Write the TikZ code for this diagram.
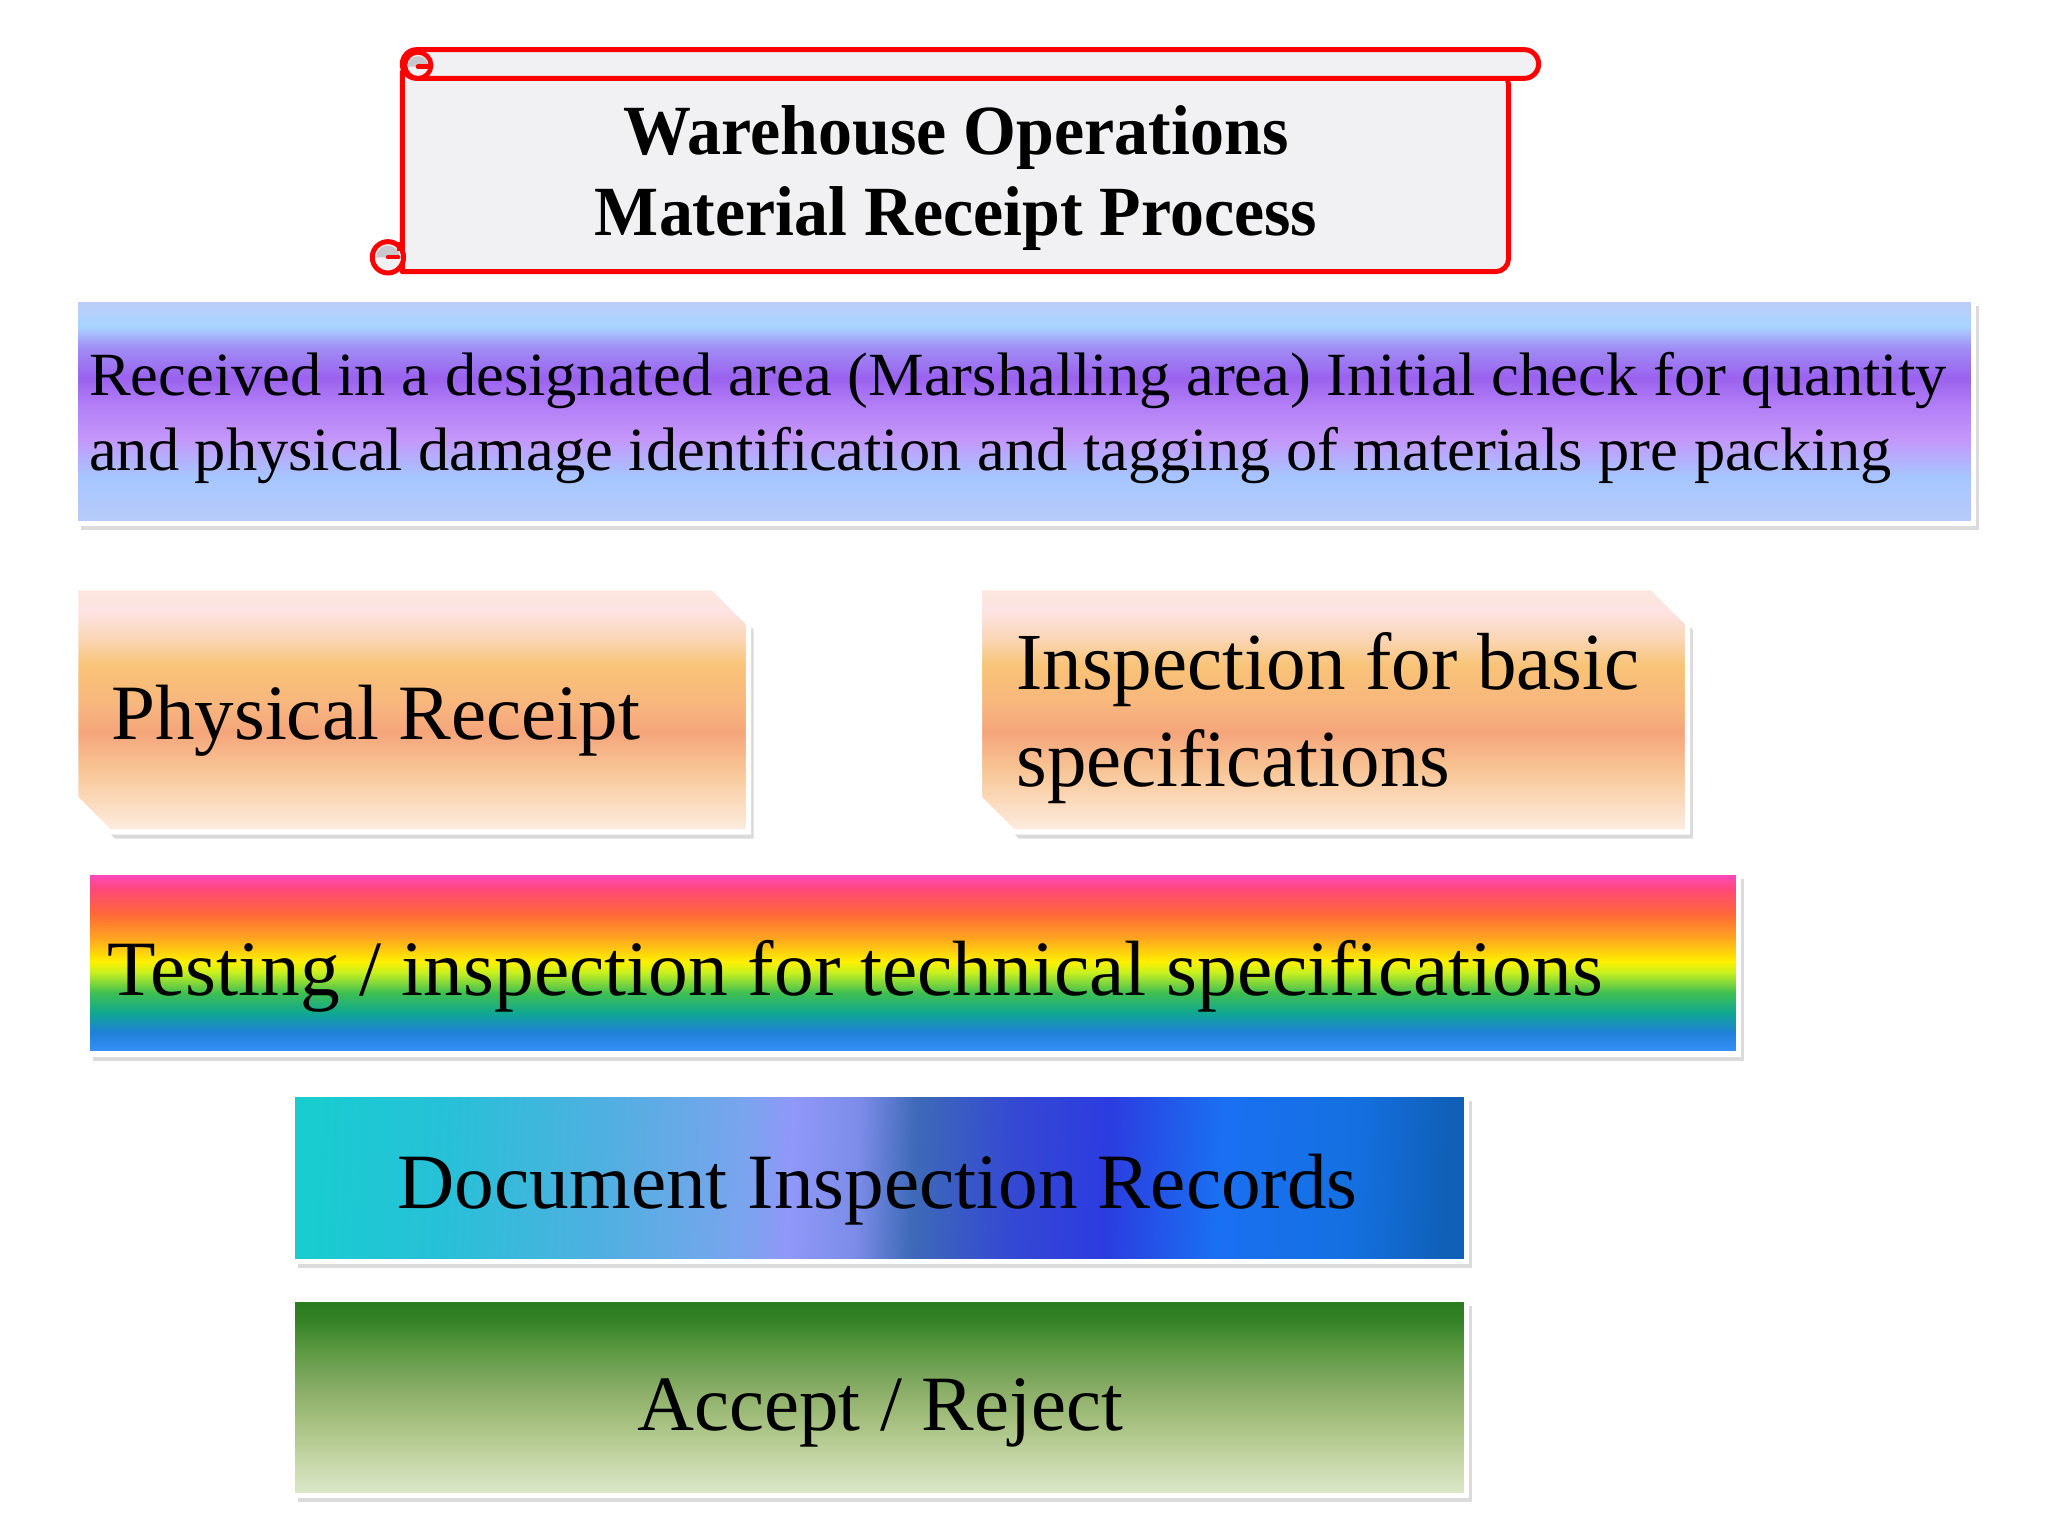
\documentclass[tikz,border=0pt]{standalone}
\usepackage{fontspec}
\setmainfont{Liberation Serif}
\usepackage{graphicx}
\usetikzlibrary{shadows}

\definecolor{scrollred}{HTML}{FF0000}
\definecolor{scrollfill}{HTML}{F1F1F3}
\definecolor{curlgray}{HTML}{C8C8CC}

% purple band
\definecolor{pu1}{HTML}{C0CCF8}
\definecolor{pu2}{HTML}{A8D4FF}
\definecolor{pu3}{HTML}{A08CF4}
\definecolor{pu4}{HTML}{9A62EE}
\definecolor{pu5}{HTML}{B27EF6}
\definecolor{pu6}{HTML}{C496FA}
\definecolor{pu7}{HTML}{A6C6FF}
\definecolor{pu8}{HTML}{B8CCF8}
% orange
\definecolor{or1}{HTML}{FBE8DC}
\definecolor{or2}{HTML}{FDE2E2}
\definecolor{or3}{HTML}{FAD6B4}
\definecolor{or4}{HTML}{F8C376}
\definecolor{or5}{HTML}{F8B67E}
\definecolor{or6}{HTML}{F4A57A}
\definecolor{or7}{HTML}{F8C696}
\definecolor{or8}{HTML}{FBDBBE}
\definecolor{or9}{HTML}{FCEDE2}
% rainbow
\definecolor{rb1}{HTML}{FF48C8}
\definecolor{rb2}{HTML}{FF4878}
\definecolor{rb3}{HTML}{FF6838}
\definecolor{rb4}{HTML}{FFA420}
\definecolor{rb5}{HTML}{FFF000}
\definecolor{rb6}{HTML}{C8F020}
\definecolor{rb7}{HTML}{40C050}
\definecolor{rb8}{HTML}{10A890}
\definecolor{rb9}{HTML}{2080D8}
\definecolor{rb10}{HTML}{3A92FF}
% green
\definecolor{gr1}{HTML}{2A7A1E}
\definecolor{gr2}{HTML}{338226}
\definecolor{gr3}{HTML}{5A9840}
\definecolor{gr4}{HTML}{88AC66}
\definecolor{gr5}{HTML}{A2BE7C}
\definecolor{gr6}{HTML}{C2D4A2}
\definecolor{gr7}{HTML}{DEE8CC}
% document (left to right)
\definecolor{dc1}{HTML}{18CCD0}
\definecolor{dc2}{HTML}{28C0D8}
\definecolor{dc3}{HTML}{4EB0E0}
\definecolor{dc4}{HTML}{7AA4EE}
\definecolor{dc5}{HTML}{9098F8}
\definecolor{dc6}{HTML}{7C8CE8}
\definecolor{dc7}{HTML}{3E6AB8}
\definecolor{dc8}{HTML}{3448D4}
\definecolor{dc9}{HTML}{2C3CE0}
\definecolor{dc10}{HTML}{1A70F2}
\definecolor{dc11}{HTML}{1470E0}
\definecolor{dc12}{HTML}{1060B8}

\pgfdeclareverticalshading{purpleband}{100bp}{color(0bp)=(pu8); color(25bp)=(pu8); color(35.5bp)=(pu7); color(44bp)=(pu6); color(51.5bp)=(pu5); color(57.5bp)=(pu4); color(64bp)=(pu3); color(69bp)=(pu2); color(75bp)=(pu1); color(100bp)=(pu1)}
\pgfdeclareverticalshading{orangeband}{100bp}{color(0bp)=(or9); color(25bp)=(or9); color(31bp)=(or8); color(37.5bp)=(or7); color(45.5bp)=(or6); color(51bp)=(or5); color(59bp)=(or4); color(64.5bp)=(or3); color(70bp)=(or2); color(75bp)=(or1); color(100bp)=(or1)}
\pgfdeclareverticalshading{rainbowband}{100bp}{color(0bp)=(rb10); color(25bp)=(rb10); color(31bp)=(rb9); color(36.5bp)=(rb8); color(42bp)=(rb7); color(47.5bp)=(rb6); color(50.5bp)=(rb5); color(57bp)=(rb4); color(63.5bp)=(rb3); color(70.5bp)=(rb2); color(75bp)=(rb1); color(100bp)=(rb1)}
\pgfdeclareverticalshading{greenband}{100bp}{color(0bp)=(gr7); color(25bp)=(gr7); color(35bp)=(gr6); color(45bp)=(gr5); color(52.5bp)=(gr4); color(62.5bp)=(gr3); color(70bp)=(gr2); color(75bp)=(gr1); color(100bp)=(gr1)}
\pgfdeclarehorizontalshading{docband}{100bp}{color(0bp)=(dc1); color(25bp)=(dc1); color(31bp)=(dc2); color(37.5bp)=(dc3); color(44bp)=(dc4); color(46bp)=(dc5); color(49bp)=(dc6); color(51.5bp)=(dc7); color(56bp)=(dc8); color(60bp)=(dc9); color(65bp)=(dc10); color(71bp)=(dc11); color(75bp)=(dc12); color(100bp)=(dc12)}

\begin{document}
\begin{tikzpicture}[x=1pt,y=-1pt,
  boxframe/.style={draw=white, line width=4pt, line join=miter,
    drop shadow={shadow xshift=4pt, shadow yshift=-5pt, opacity=0.2, fill=black!70}},
  lbl/.style={inner sep=0pt, text=black},
  scrollline/.style={draw=scrollred, line width=3.8pt, line join=round, line cap=round},
]
\fill[white] (0,0) rectangle (1568,1176);
\useasboundingbox (0,0) rectangle (1568,1176);

% ---------- scroll ----------
\path[scrollline, fill=scrollfill] (308,55) -- (308,208) [rounded corners=10pt]-- (1155,208) -- (1155,55) [sharp corners]-- cycle;
\path[scrollline, fill=scrollfill, rounded corners=11pt] (308,38) rectangle (1178,60);
% top-left curl
\path[draw=scrollred, line width=3.6pt, fill=scrollfill] (320,50) circle (10);
\fill[curlgray] (312,51) arc[start angle=180, end angle=360, radius=8] -- cycle;
\draw[scrollred, line width=3.4pt, line cap=round] (320,51) -- (330,51);
% bottom-left curl
\path[draw=scrollred, line width=3.8pt, fill=scrollfill] (297,197) circle (12);
\fill[curlgray] (288,197) arc[start angle=180, end angle=360, radius=9] -- cycle;
\draw[scrollred, line width=3.2pt, line cap=round] (297,197) -- (305,197);
\draw[scrollred, line width=2pt] (305,185) -- (305,192);

\node[lbl, anchor=base] (title1) at (732,118)
  {\resizebox{509pt}{\height}{\fontsize{54}{54}\selectfont\bfseries Warehouse Operations}};
\node[lbl, anchor=base] (title2) at (732,180)
  {\resizebox{553pt}{\height}{\fontsize{54}{54}\selectfont\bfseries Material Receipt Process}};

% ---------- purple band ----------
\path[boxframe, shading=purpleband] (58,229) rectangle (1511,401);
\node[lbl, anchor=base west] (recv1) at (68,303)
  {\resizebox{1422pt}{\height}{\fontsize{47}{47}\selectfont Received in a designated area (Marshalling area) Initial check for quantity}};
\node[lbl, anchor=base west] (recv2) at (68,360)
  {\resizebox{1380pt}{\height}{\fontsize{47}{47}\selectfont and physical damage identification and tagging of materials pre packing}};

% ---------- snipped boxes ----------
\path[boxframe, shading=orangeband] (58,450) -- (546,450) -- (573,477) -- (573,637) -- (84,637) -- (58,611) -- cycle;
\node[lbl, anchor=base west] (phys) at (85,566)
  {\resizebox{405pt}{\height}{\fontsize{60}{60}\selectfont Physical Receipt}};

\path[boxframe, shading=orangeband] (750,450) -- (1265,450) -- (1292,477) -- (1292,637) -- (776,637) -- (750,611) -- cycle;
\node[lbl, anchor=base west] (insp1) at (778,528)
  {\resizebox{477pt}{\height}{\fontsize{62}{62}\selectfont Inspection for basic}};
\node[lbl, anchor=base west] (insp2) at (778,602)
  {\resizebox{332pt}{\height}{\fontsize{62}{62}\selectfont specifications}};

% ---------- rainbow band ----------
\path[boxframe, shading=rainbowband] (67,668) rectangle (1331,807);
\node[lbl, anchor=base west] (test) at (82,762)
  {\resizebox{1145pt}{\height}{\fontsize{60}{60}\selectfont Testing / inspection for technical specifications}};

% ---------- document box ----------
\path[boxframe, shading=docband, shading angle=-2.5] (224,838) rectangle (1123,966);
\node[lbl, anchor=base] (doc) at (672,925)
  {\resizebox{735pt}{\height}{\fontsize{60}{60}\selectfont Document Inspection Records}};

% ---------- accept / reject ----------
\path[boxframe, shading=greenband] (224,995) rectangle (1123,1145);
\node[lbl, anchor=base] (acc) at (674,1095)
  {\resizebox{372pt}{\height}{\fontsize{60}{60}\selectfont Accept / Reject}};
\end{tikzpicture}
\end{document}
